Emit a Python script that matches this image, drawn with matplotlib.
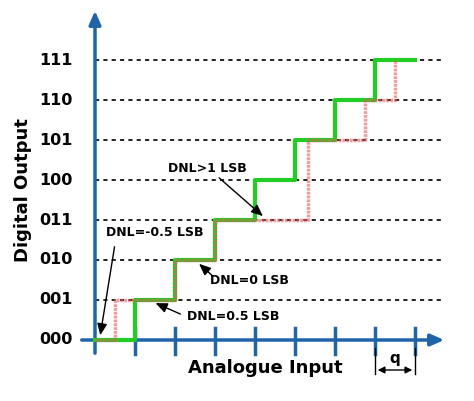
import matplotlib.pyplot as plt
import numpy as np

codes = ['000','001','010','011','100','101','110','111']
ideal_x = [0,1,2,3,4,5,6,7,8]
ideal_y = [0,1,2,3,4,5,6,7,7]
actual_x = [0,0.5,2,3,5.33,6.75,7.5,7.5]
actual_y = [0,1,2,3,5,6,7,7]

fig = plt.figure(figsize=(4.74,4.01), dpi=100)
ax = fig.add_axes([0,0,1,1])
ax.set_xlim(-95/40, 379/40)
ax.set_ylim(-61/40, 340/40)
ax.axis('off')
blue = '#1f63a8'

for i in range(1,8):
    ax.plot([0,8.75],[i,i],color='black',ls=(0,(2.5,2.5)),lw=1.2,zorder=1)
ax.annotate('',xy=(8.8,0),xytext=(-0.4,0),arrowprops=dict(arrowstyle='-|>,head_width=0.35,head_length=0.8',color=blue,lw=2.5),zorder=2)
ax.annotate('',xy=(0,8.3),xytext=(0,-0.4),arrowprops=dict(arrowstyle='-|>,head_width=0.35,head_length=0.8',color=blue,lw=2.5),zorder=2)
for t in range(1,9):
    ax.plot([t,t],[-0.35,0.3],color=blue,lw=2.5,zorder=2)
for i,c in enumerate(codes):
    ax.text(-0.55,i,c,ha='right',va='center',fontsize=11.5,fontweight='bold',family='DejaVu Sans')
ax.text(-1.8,3.75,'Digital Output',rotation=90,ha='center',va='center',fontsize=13,fontweight='bold')
ax.text(4.25,-0.7,'Analogue Input',ha='center',va='center',fontsize=13,fontweight='bold')

ax.step(ideal_x,ideal_y,where='post',color='#22cc22',lw=3,zorder=3)
ax.step(actual_x,actual_y,where='post',color='#e85a5a',lw=2.5,ls=(0,(0.8,0.3)),alpha=0.6,zorder=4)

# q bracket
ax.plot([7,7],[-0.2,-0.85],color='black',lw=1)
ax.plot([8,8],[-0.2,-0.85],color='black',lw=1)
ax.annotate('',xy=(7,-0.75),xytext=(8,-0.75),arrowprops=dict(arrowstyle='<|-|>',color='black',lw=1))
ax.text(7.5,-0.45,'q',ha='center',va='center',fontsize=11,fontweight='bold')

ap = dict(arrowstyle='-|>,head_width=0.3,head_length=0.7',color='black',lw=1)
ax.text(2.8,4.3,'DNL>1 LSB',ha='center',va='center',fontsize=9,fontweight='bold',zorder=5)
ax.annotate('',xy=(4.25,3.05),xytext=(3.05,4.1),arrowprops=ap,zorder=5)
ax.text(1.5,2.7,'DNL=-0.5 LSB',ha='center',va='center',fontsize=9,fontweight='bold',zorder=5)
ax.annotate('',xy=(0.12,0.05),xytext=(0.5,2.4),arrowprops=ap,zorder=5)
ax.text(3.85,1.5,'DNL=0 LSB',ha='center',va='center',fontsize=9,fontweight='bold',zorder=5)
ax.annotate('',xy=(2.55,1.95),xytext=(3.0,1.55),arrowprops=ap,zorder=5)
ax.text(3.45,0.6,'DNL=0.5 LSB',ha='center',va='center',fontsize=9,fontweight='bold',zorder=5)
ax.annotate('',xy=(1.45,0.95),xytext=(2.2,0.62),arrowprops=ap,zorder=5)
fig.savefig('out.png',dpi=100)
